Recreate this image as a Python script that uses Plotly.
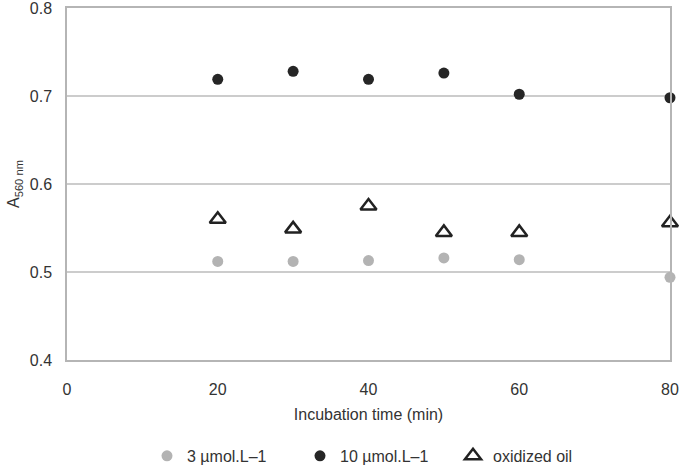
import plotly.graph_objects as go

time_min = [20, 30, 40, 50, 60, 80]
conc_3 = [0.512, 0.512, 0.513, 0.516, 0.514, 0.494]
conc_10 = [0.719, 0.728, 0.719, 0.726, 0.702, 0.698]
oxidized_oil = [0.560, 0.549, 0.575, 0.545, 0.545, 0.556]

x_ticks = [0, 20, 40, 60, 80]
y_ticks = [0.4, 0.5, 0.6, 0.7, 0.8]

fig = go.Figure()
fig.add_trace(go.Scatter(x=time_min, y=conc_3, mode="markers", name="3 µmol.L–1",
                         cliponaxis=False,
                         marker=dict(symbol="circle", size=11, color="#b3b3b3")))
fig.add_trace(go.Scatter(x=time_min, y=conc_10, mode="markers", name="10 µmol.L–1",
                         cliponaxis=False,
                         marker=dict(symbol="circle", size=11, color="#262626")))
fig.add_trace(go.Scatter(x=time_min, y=oxidized_oil, mode="markers", name="oxidized oil",
                         cliponaxis=False,
                         marker=dict(symbol="triangle-up-open", size=14, color="#222222",
                                     line=dict(width=2.5, color="#222222"))))

font_family = "Liberation Sans, Arial, sans-serif"
fig.update_layout(
    width=685, height=471,
    margin=dict(l=67, r=15, t=8, b=111),
    paper_bgcolor="white", plot_bgcolor="white",
    font=dict(family=font_family, size=16, color="#333333"),
    showlegend=True,
    legend=dict(orientation="h", x=0.2146, xanchor="left", xref="container",
                y=0.032, yanchor="middle", yref="container",
                font=dict(size=16, color="#333333"), entrywidth=108, entrywidthmode="pixels",
                itemwidth=30, tracegroupgap=0),
)
fig.update_xaxes(range=[0, 80], tickvals=x_ticks, showgrid=False, zeroline=False,
                 showline=True, mirror=True, linecolor="#b5b5b5", linewidth=1.5,
                 ticks="", ticklabelstandoff=14, automargin=False, ticklabeloverflow="allow",
                 title=dict(text="Incubation time (min)", font=dict(size=16), standoff=12))
fig.update_yaxes(range=[0.4, 0.8], tickvals=y_ticks, showgrid=True, gridcolor="#cccccc",
                 gridwidth=1.5, zeroline=False, tickformat=".1f",
                 showline=True, mirror=True, linecolor="#b5b5b5", linewidth=1.5,
                 ticks="", ticklabelstandoff=10, automargin=False, ticklabeloverflow="allow",
                 title=dict(text="A<sub>560 nm</sub>", font=dict(size=16), standoff=6))

fig.write_html("out.html")
